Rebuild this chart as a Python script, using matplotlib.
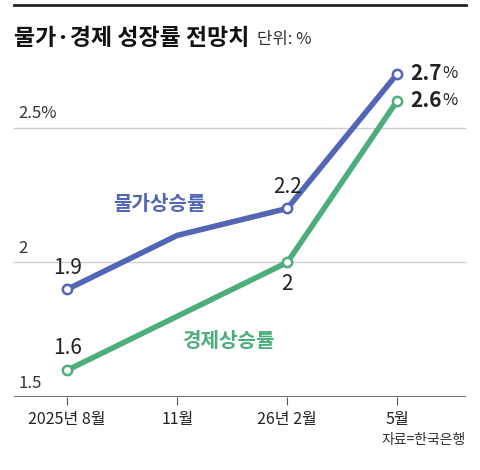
import matplotlib

matplotlib.use("Agg")
import matplotlib.pyplot as plt

plt.rcParams["font.family"] = ["Noto Sans CJK KR", "DejaVu Sans"]

# data
periods = ["2025년 8월", "11월", "26년 2월", "5월"]
inflation = [1.9, 2.1, 2.2, 2.7]
growth = [1.6, 1.8, 2.0, 2.6]
yticks = [1.5, 2.0, 2.5]
ytick_labels = ["1.5", "2", "2.5%"]

BLUE = "#5266b5"
GREEN = "#4dae7c"
GRID = "#cfcfcf"

fig = plt.figure(figsize=(4.8, 4.7), dpi=100)
ax = fig.add_axes([0.03, 0.155, 0.94, 0.717])
x = list(range(len(periods)))

for yv in yticks[1:]:
    ax.axhline(yv, color=GRID, lw=1, zorder=0)
ax.axhline(yticks[0], color="#555555", lw=1.2, zorder=0)

ax.plot(x, inflation, color=BLUE, lw=4, zorder=2)
ax.plot(x, growth, color=GREEN, lw=4, zorder=2)
for xs, ys, c in [(x, inflation, BLUE), (x, growth, GREEN)]:
    keep = [i for i in range(len(xs)) if i != 1]
    ax.scatter([xs[i] for i in keep], [ys[i] for i in keep], s=45,
               facecolor="white", edgecolor=c, linewidth=1.8, zorder=3)

ax.set_xlim(-0.48, 3.62)
ax.set_ylim(1.5, 2.75)
for s in ax.spines.values():
    s.set_visible(False)
ax.set_yticks([])
ax.set_xticks(x)
ax.set_xticklabels(periods, fontsize=11.5, color="#222222")
ax.tick_params(axis="x", length=6, color="#555555", pad=4)

for yv, lab in zip(yticks, ytick_labels):
    ax.text(-0.44, yv + 0.02, lab, fontsize=12, color="#333333", va="bottom",
            ha="left")

# value labels
num = dict(fontsize=15, color="#222222")
ax.text(x[0], inflation[0] + 0.04, "1.9", ha="center", va="bottom", **num)
ax.text(x[2], inflation[2] + 0.04, "2.2", ha="center", va="bottom", **num)
ax.text(x[0], growth[0] + 0.04, "1.6", ha="center", va="bottom", **num)
ax.text(x[2], growth[2] - 0.04, "2", ha="center", va="top", **num)
for yv, lab in [(inflation[3], "2.7"), (growth[3], "2.6")]:
    ax.annotate(lab, (x[3] + 0.12, yv), ha="left", va="center", fontweight="bold",
                fontsize=15, color="#222222")
    ax.annotate("%", (x[3] + 0.12, yv), xytext=(23, 0), textcoords="offset points",
                ha="left", va="center", fontsize=12, color="#222222")

ax.text(0.84, 2.22, "물가상승률", color=BLUE, fontsize=14.5, fontweight="bold",
        ha="center", va="center")
ax.text(1.46, 1.71, "경제상승률", color=GREEN, fontsize=14.5, fontweight="bold",
        ha="center", va="center")

fig.add_artist(plt.Line2D([0.03, 0.97], [0.99, 0.99], color="#222222", lw=2))
fig.text(0.03, 0.905, "물가·경제 성장률 전망치", fontsize=16.5, fontweight="bold", color="#111111")
fig.text(0.535, 0.907, "단위: %", fontsize=12, color="#333333")
fig.text(0.97, 0.055, "자료=한국은행", fontsize=10, color="#333333", ha="right")

fig.savefig("out.png", dpi=100)
